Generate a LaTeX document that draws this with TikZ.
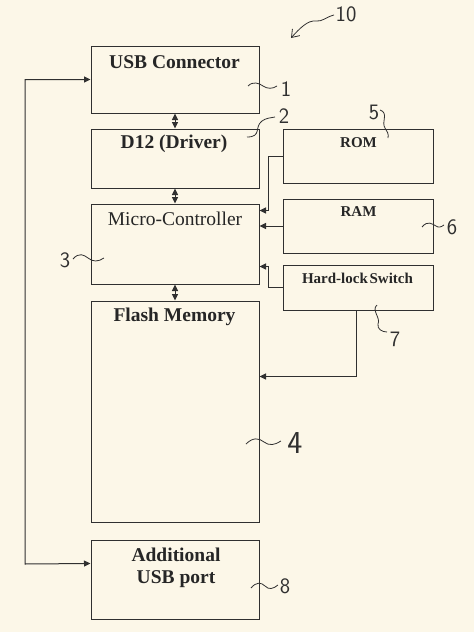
\documentclass[tikz,border=0pt]{standalone}
\usepackage{fontspec}
\setmainfont{Liberation Serif}
\usetikzlibrary{arrows.meta}
\definecolor{paper}{HTML}{FCF7E8}
\definecolor{ink}{HTML}{303030}
\definecolor{txt}{HTML}{262626}
\begin{document}
\begin{tikzpicture}[x=1pt,y=-1pt,
  blk/.style={draw=ink,line width=1pt,rectangle,inner sep=0pt,minimum width=168pt},
  side/.style={draw=ink,line width=1pt,rectangle,inner sep=0pt,minimum width=150pt},
  big/.style={text=txt,font=\fontsize{19.5}{22}\selectfont\bfseries,inner sep=0pt,align=center},
  reg/.style={text=txt,font=\fontsize{19.5}{22}\selectfont,inner sep=0pt},
  small/.style={text=txt,font=\fontsize{15}{18}\selectfont\bfseries,inner sep=0pt},
  hand/.style={text=ink,font=\fontsize{22}{24}\sffamily,inner sep=0pt},
  wig/.style={draw=ink,line width=0.8pt},
  conn/.style={draw=ink,line width=1pt},
  arr/.style={conn,-{Triangle[length=6.5pt,width=6pt]}},
  darr/.style={conn,{Triangle[length=6.5pt,width=6pt]}-{Triangle[length=6.5pt,width=6pt]}}]
\fill[paper] (0,0) rectangle (474,632);
\useasboundingbox (0,0) rectangle (474,632);

% boxes
\node[blk,minimum height=67pt]  (usb)   at (175,79.5) {};
\node[blk,minimum height=59pt]  (d12)   at (175,158.5) {};
\node[blk,minimum height=80pt]  (mc)    at (175,244) {};
\node[blk,minimum height=221pt] (flash) at (175,411.5) {};
\node[blk,minimum height=79pt]  (add)   at (175,579.5) {};
\node[side,minimum height=54pt] (rom)   at (358,156) {};
\node[side,minimum height=54pt] (ram)   at (358,226) {};
\node[side,minimum height=45pt] (hl)    at (358,287.5) {};

% texts
\node[big] (tusb)   at (174.5,62) {USB Connector};
\node[big] (td12)   at (174,144) {D12 (Driver)};
\node[reg] (tmc)    at (175,219) {Micro-Controller};
\node[big] (tflash) at (174.5,317) {Flash Memory};
\node[big] (tadd)   at (176,568) {Additional\\USB port};
\node[small] (trom) at (358.5,143) {ROM};
\node[small] (tram) at (358.5,212) {RAM};
\node[small] (thl)  at (357.5,278) {Hard-lock\hspace{0.12em}Switch};

% vertical double arrows
\draw[darr] (usb.south) -- (d12.north);
\draw[darr] (d12.south) -- (mc.north);
\draw[darr] (mc.south) -- (flash.north);

% side connectors
\draw[arr] (rom.west) -- ++(-14,0) |- ([yshift=-7pt]mc.north east);
\draw[arr] (ram.west) -- (mc.east |- ram.west);
\draw[arr] (hl.west) -- ++(-14,0) |- ([yshift=18pt]mc.south east);
\draw[arr] ([xshift=-2pt]hl.south) |- ([yshift=-76pt]flash.north east);

% left loop
\coordinate (lx1) at (25,79.5);
\coordinate (lx2) at (25,564);
\draw[darr] (usb.west) -- (lx1) -- (lx2) -- ([yshift=-24pt]add.north west);

% handwritten reference numerals
\node[hand] (n10) at (346,14) {10};
\draw[wig,-{Straight Barb[length=7pt,width=10pt]}] (334,15) .. controls (326,17) and (322,22) .. (316,21)
  .. controls (308,20) and (300,28) .. (291,38);

\node[hand] (n1) at (286,89) {1};
\draw[wig] (248,86) .. controls (253,81) and (259,83) .. (263,86) .. controls (267,89) and (273,89) .. (277,86);

\node[hand] (n2) at (284,116) {2};
\draw[wig] (247,137) .. controls (262,137) and (254,127) .. (262,121) .. controls (266,118) and (270,118) .. (275,117);

\node[hand] (n5) at (374,112) {5};
\draw[wig] (380,110) .. controls (389,113) and (381,122) .. (385,128) .. controls (387,131) and (389,134) .. (388,138);

\node[hand] (n6) at (452,227) {6};
\draw[wig] (422,227) .. controls (428,220) and (432,224) .. (436,226) .. controls (439,228) and (441,227) .. (444,225);

\node[hand] (n3) at (65,260) {3};
\draw[wig] (73,259) .. controls (79,252) and (84,255) .. (88,258) .. controls (93,262) and (98,262) .. (104,258);

\node[hand] (n7) at (395,339) {7};
\draw[wig] (377,305) .. controls (371,310) and (381,318) .. (378,324) .. controls (377,329) and (382,332) .. (387,332);

\node[hand,font=\fontsize{32}{34}\sffamily] (n4) at (295,443) {4};
\draw[wig] (246,444) .. controls (253,437) and (259,438) .. (264,442) .. controls (269,446) and (275,445) .. (281,441);

\node[hand] (n8) at (285,586) {8};
\draw[wig] (251,588) .. controls (256,582) and (261,582) .. (265,586) .. controls (269,590) and (273,589) .. (278,585);
\end{tikzpicture}
\end{document}
